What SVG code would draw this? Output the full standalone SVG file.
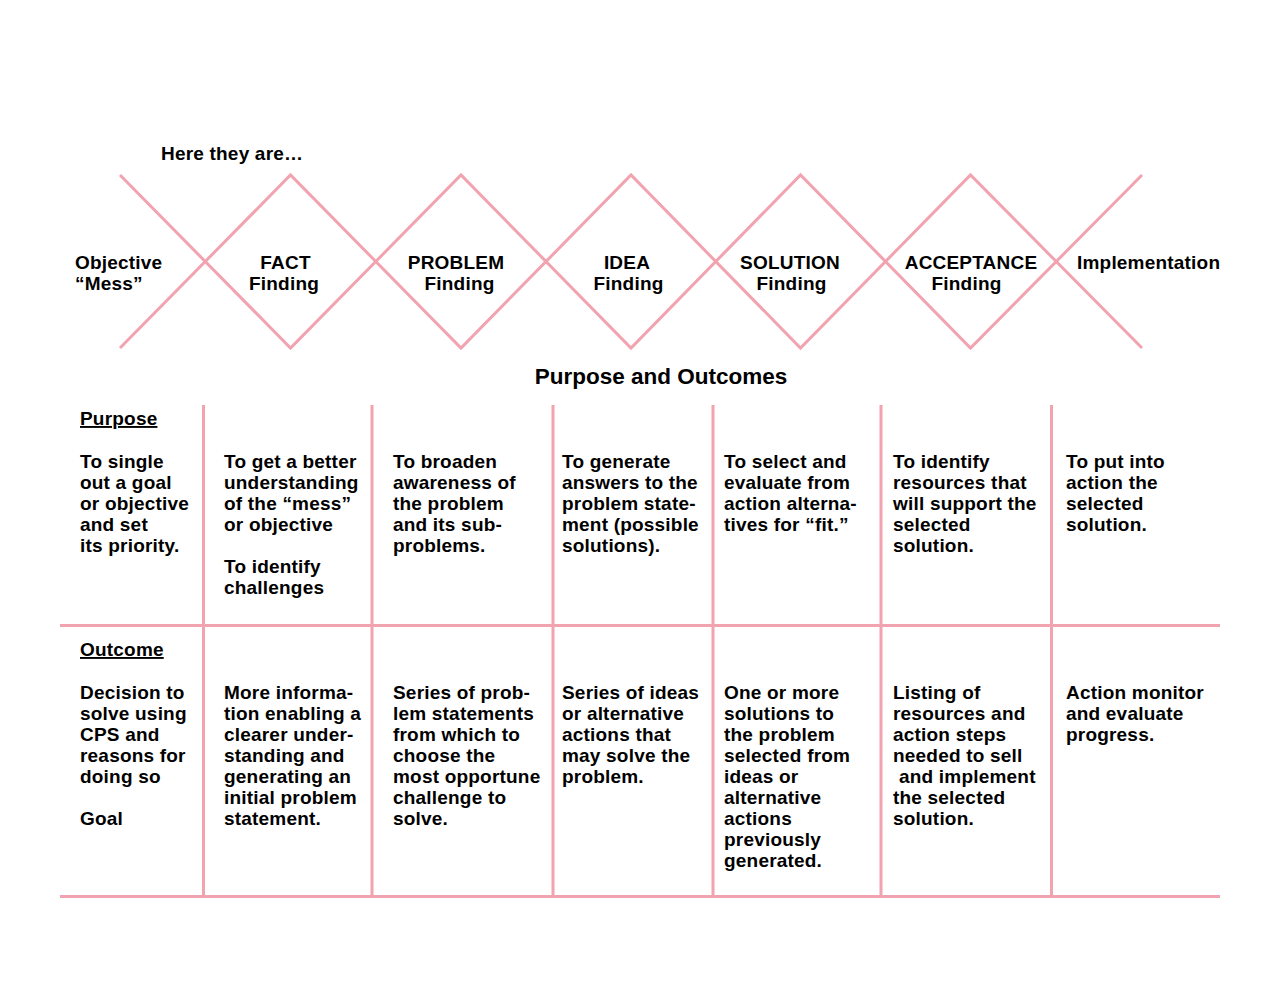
<svg xmlns="http://www.w3.org/2000/svg" width="1280" height="989" viewBox="0 0 1280 989">
<style>
.ln{stroke:#f2a3b0;stroke-width:3;fill:none;stroke-linecap:butt;stroke-linejoin:miter}
.t{font-family:"Liberation Sans",Arial,Helvetica,sans-serif;font-weight:bold;font-size:19px;letter-spacing:0.2px;fill:#000}
.c{text-anchor:middle}
.h{font-size:22.5px;letter-spacing:0}
.u{text-decoration:underline}
</style>
<rect width="1280" height="989" fill="#fff"/>
<g id="connectors">
<polyline class="ln" points="120,175 290.5,348 461,175 631,348 800.5,175 970.5,348 1142,175"/>
<polyline class="ln" points="120,348 290.5,175 461,348 631,175 800.5,348 970.5,175 1142,348"/>
</g>
<text id="intro" class="t" x="161" y="160">Here they are…</text>
<g id="n-objective"><text class="t" x="75" y="269">Objective<tspan x="75" y="290">“Mess”</tspan></text></g>
<g id="n-fact"><text class="t c" x="285.5" y="269">FACT<tspan x="284" y="290">Finding</tspan></text></g>
<g id="n-problem"><text class="t c" x="456" y="269">PROBLEM<tspan x="459.5" y="290">Finding</tspan></text></g>
<g id="n-idea"><text class="t c" x="627" y="269">IDEA<tspan x="628.5" y="290">Finding</tspan></text></g>
<g id="n-solution"><text class="t c" x="790" y="269">SOLUTION<tspan x="791.5" y="290">Finding</tspan></text></g>
<g id="n-acceptance"><text class="t c" x="971" y="269">ACCEPTANCE<tspan x="966.5" y="290">Finding</tspan></text></g>
<g id="n-implementation"><text class="t" x="1077" y="269">Implementation</text></g>
<text id="title" class="t h c" x="661" y="384">Purpose and Outcomes</text>
<g id="table">
<line class="ln" x1="203.5" y1="405" x2="203.5" y2="898"/>
<line class="ln" x1="372" y1="405" x2="372" y2="898"/>
<line class="ln" x1="553" y1="405" x2="553" y2="898"/>
<line class="ln" x1="713" y1="405" x2="713" y2="898"/>
<line class="ln" x1="881" y1="405" x2="881" y2="898"/>
<line class="ln" x1="1051.5" y1="405" x2="1051.5" y2="898"/>
<line class="ln" x1="60" y1="625.5" x2="1220" y2="625.5"/>
<line class="ln" x1="60" y1="896.5" x2="1220" y2="896.5"/>
</g>
<g id="purpose">
<text class="t u" x="80" y="425">Purpose</text>
<text class="t" x="80" y="468">To single<tspan x="80" dy="21">out a goal</tspan><tspan x="80" dy="21">or objective</tspan><tspan x="80" dy="21">and set</tspan><tspan x="80" dy="21">its priority.</tspan></text>
<text class="t" x="224" y="468">To get a better<tspan x="224" dy="21">understanding</tspan><tspan x="224" dy="21">of the “mess”</tspan><tspan x="224" dy="21">or objective</tspan><tspan x="224" dy="42">To identify</tspan><tspan x="224" dy="21">challenges</tspan></text>
<text class="t" x="393" y="468">To broaden<tspan x="393" dy="21">awareness of</tspan><tspan x="393" dy="21">the problem</tspan><tspan x="393" dy="21">and its sub-</tspan><tspan x="393" dy="21">problems.</tspan></text>
<text class="t" x="562" y="468">To generate<tspan x="562" dy="21">answers to the</tspan><tspan x="562" dy="21">problem state-</tspan><tspan x="562" dy="21">ment (possible</tspan><tspan x="562" dy="21">solutions).</tspan></text>
<text class="t" x="724" y="468">To select and<tspan x="724" dy="21">evaluate from</tspan><tspan x="724" dy="21">action alterna-</tspan><tspan x="724" dy="21">tives for “fit.”</tspan></text>
<text class="t" x="893" y="468">To identify<tspan x="893" dy="21">resources that</tspan><tspan x="893" dy="21">will support the</tspan><tspan x="893" dy="21">selected</tspan><tspan x="893" dy="21">solution.</tspan></text>
<text class="t" x="1066" y="468">To put into<tspan x="1066" dy="21">action the</tspan><tspan x="1066" dy="21">selected</tspan><tspan x="1066" dy="21">solution.</tspan></text>
</g>
<g id="outcome">
<text class="t u" x="80" y="656">Outcome</text>
<text class="t" x="80" y="699">Decision to<tspan x="80" dy="21">solve using</tspan><tspan x="80" dy="21">CPS and</tspan><tspan x="80" dy="21">reasons for</tspan><tspan x="80" dy="21">doing so</tspan><tspan x="80" dy="42">Goal</tspan></text>
<text class="t" x="224" y="699">More informa-<tspan x="224" dy="21">tion enabling a</tspan><tspan x="224" dy="21">clearer under-</tspan><tspan x="224" dy="21">standing and</tspan><tspan x="224" dy="21">generating an</tspan><tspan x="224" dy="21">initial problem</tspan><tspan x="224" dy="21">statement.</tspan></text>
<text class="t" x="393" y="699">Series of prob-<tspan x="393" dy="21">lem statements</tspan><tspan x="393" dy="21">from which to</tspan><tspan x="393" dy="21">choose the</tspan><tspan x="393" dy="21">most opportune</tspan><tspan x="393" dy="21">challenge to</tspan><tspan x="393" dy="21">solve.</tspan></text>
<text class="t" x="562" y="699">Series of ideas<tspan x="562" dy="21">or alternative</tspan><tspan x="562" dy="21">actions that</tspan><tspan x="562" dy="21">may solve the</tspan><tspan x="562" dy="21">problem.</tspan></text>
<text class="t" x="724" y="699">One or more<tspan x="724" dy="21">solutions to</tspan><tspan x="724" dy="21">the problem</tspan><tspan x="724" dy="21">selected from</tspan><tspan x="724" dy="21">ideas or</tspan><tspan x="724" dy="21">alternative</tspan><tspan x="724" dy="21">actions</tspan><tspan x="724" dy="21">previously</tspan><tspan x="724" dy="21">generated.</tspan></text>
<text class="t" x="893" y="699">Listing of<tspan x="893" dy="21">resources and</tspan><tspan x="893" dy="21">action steps</tspan><tspan x="893" dy="21">needed to sell</tspan><tspan x="899" dy="21">and implement</tspan><tspan x="893" dy="21">the selected</tspan><tspan x="893" dy="21">solution.</tspan></text>
<text class="t" x="1066" y="699">Action monitor<tspan x="1066" dy="21">and evaluate</tspan><tspan x="1066" dy="21">progress.</tspan></text>
</g>
</svg>
